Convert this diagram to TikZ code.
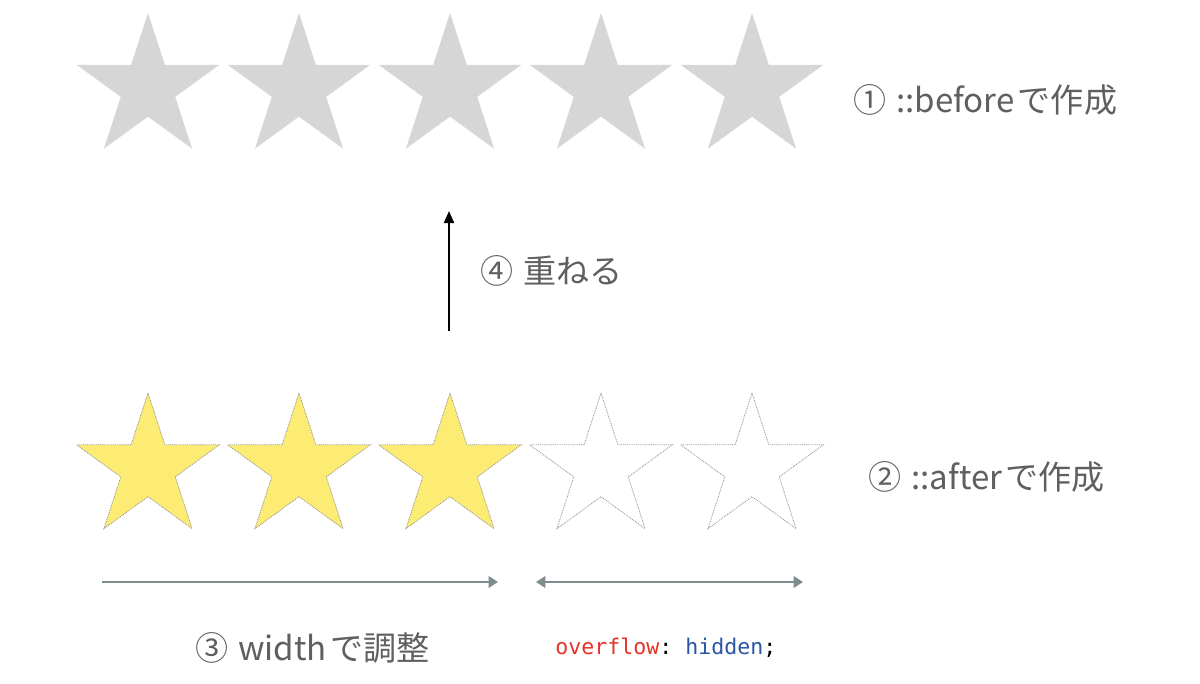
\documentclass[tikz,border=0pt]{standalone}
\usepackage{fontspec}
\setmainfont{Noto Sans CJK JP}
\setmonofont{DejaVu Sans Mono}
\usetikzlibrary{arrows.meta}
\definecolor{stargray}{RGB}{214,214,214}
\definecolor{staryellow}{RGB}{252,236,116}
\definecolor{outlinegray}{RGB}{150,150,150}
\definecolor{labelgray}{RGB}{95,95,95}
\definecolor{arrowgray}{RGB}{125,140,140}
\definecolor{codered}{RGB}{232,50,40}
\definecolor{codeblue}{RGB}{40,85,165}
\newcommand{\mystarpath}{(-90:75) -- (-54:28.65) -- (-18:75) -- (18:28.65) -- (54:75) -- (90:28.65) -- (126:75) -- (162:28.65) -- (198:75) -- (234:28.65) -- cycle}
\newcommand{\gap}{\hspace{0.3em}}
\tikzset{
  backstar/.style={fill=stargray, draw=none},
  frontstar/.style={fill=staryellow, draw=outlinegray, line width=0.6pt, dash pattern=on 0.7pt off 0.7pt},
  emptystar/.style={fill=white, draw=outlinegray, line width=0.6pt, dash pattern=on 0.7pt off 0.7pt},
  label/.style={text=labelgray, font=\fontsize{24.8pt}{29pt}\selectfont, inner sep=0pt, anchor=west},
  code/.style={font=\ttfamily\fontsize{16.2pt}{20pt}\selectfont, inner sep=0pt, anchor=west},
  measure/.style={draw=arrowgray, line width=1.9pt},
  mtip/.tip={Triangle[length=7pt,width=8.5pt]}
}
\begin{document}
\begin{tikzpicture}[x=0.75pt, y=-0.75pt]
\useasboundingbox (0,0) rectangle (1200,683);
% top row (::before)
\foreach \cx in {148,299,450,601,752} {
  \path[backstar, shift={(\cx,88)}] \mystarpath;
}
% bottom row (::after)
\foreach \cx in {148,299,450} {
  \draw[frontstar, shift={(\cx,468)}] \mystarpath;
}
\foreach \cx in {601,752} {
  \draw[emptystar, shift={(\cx,468)}] \mystarpath;
}
% labels
\node[label] (before) at (853,100) {①\gap::before\hspace{0.1em}で作成};
\node[label] (after) at (868,477) {②\gap::after\hspace{0.1em}で作成};
\node[label] (overlay) at (480,271) {④\gap 重ねる};
\node[label] (width) at (195,648) {③\gap width\hspace{0.1em}で調整};
\node[code] (overflow) at (555,648) {\textcolor{codered}{overflow}: \textcolor{codeblue}{hidden};};
% overlay arrow
\coordinate (upstart) at (449,331);
\coordinate (upend) at (449,211);
\draw[line width=1.6pt, -{Triangle[length=9pt,width=7.5pt]}] (upstart) -- (upend);
% measure arrows
\coordinate (wa) at (102,582);
\coordinate (wb) at (498,582);
\coordinate (ha) at (536,582);
\coordinate (hb) at (803,582);
\draw[measure, -{mtip}] (wa) -- (wb);
\draw[measure, {mtip}-{mtip}] (ha) -- (hb);
\end{tikzpicture}
\end{document}
